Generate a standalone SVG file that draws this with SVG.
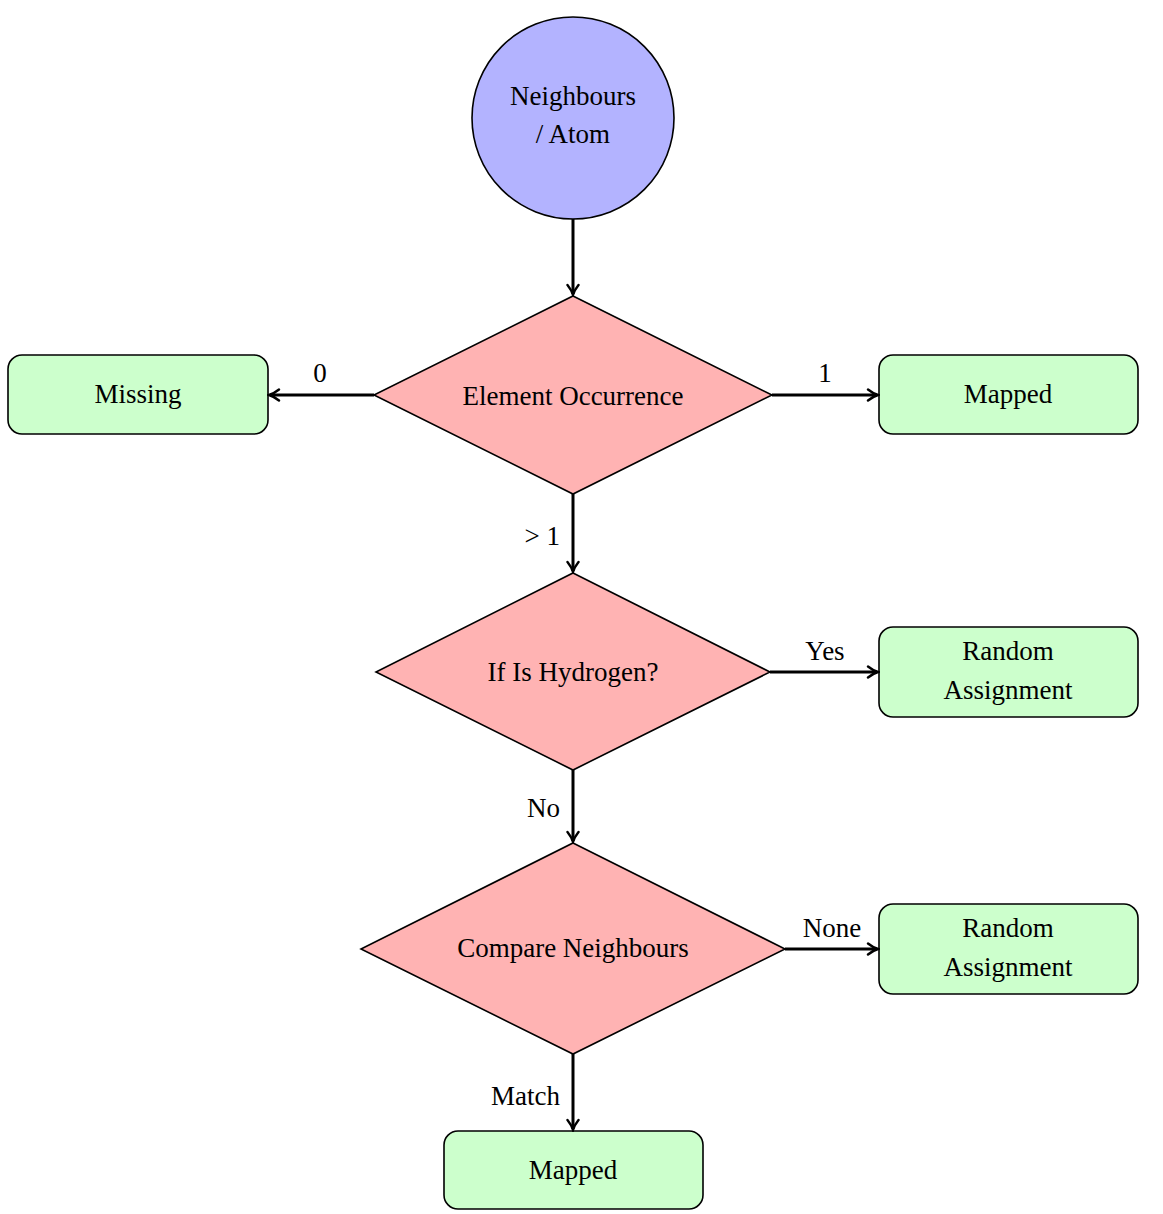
<svg xmlns="http://www.w3.org/2000/svg" width="1163" height="1214" viewBox="0 0 1163 1214">
<style>
text{font-family:"Liberation Serif","DejaVu Serif",serif;font-size:27px;fill:#000}
.c{text-anchor:middle}
.sh{stroke:#000;stroke-width:1.6}
.box{fill:#ccffcc}
.dia{fill:#ffb3b3}
.e{stroke:#000;stroke-width:3;fill:none;marker-end:url(#a)}
</style>
<defs>
<marker id="a" markerWidth="14" markerHeight="14" refX="11" refY="7" orient="auto" markerUnits="userSpaceOnUse">
<path d="M2,1.5 Q7,5.5 12,7 Q7,8.5 2,12.5" fill="none" stroke="#000" stroke-width="2.4" stroke-linecap="round"/>
</marker>
</defs>
<g id="start"><circle class="sh" cx="573" cy="118" r="101" fill="#b3b3ff"/><text class="c" x="573" y="105">Neighbours</text><text class="c" x="573" y="143">/ Atom</text></g>
<g id="occ"><polygon class="sh dia" points="573,296 772,395 573,494 374,395"/><text class="c" x="573" y="405">Element Occurrence</text></g>
<g id="missing"><rect class="sh box" x="8" y="355" width="260" height="79" rx="14"/><text class="c" x="138" y="403">Missing</text></g>
<g id="mapped1"><rect class="sh box" x="879" y="355" width="259" height="79" rx="14"/><text class="c" x="1008" y="403">Mapped</text></g>
<g id="hyd"><polygon class="sh dia" points="573,573 770,672 573,770 376,672"/><text class="c" x="573" y="681">If Is Hydrogen?</text></g>
<g id="rand1"><rect class="sh box" x="879" y="627" width="259" height="90" rx="14"/><text class="c" x="1008" y="660">Random</text><text class="c" x="1008" y="699">Assignment</text></g>
<g id="cmp"><polygon class="sh dia" points="573,843 785,949 573,1054 361,949"/><text class="c" x="573" y="957">Compare Neighbours</text></g>
<g id="rand2"><rect class="sh box" x="879" y="904" width="259" height="90" rx="14"/><text class="c" x="1008" y="937">Random</text><text class="c" x="1008" y="976">Assignment</text></g>
<g id="mapped2"><rect class="sh box" x="444" y="1131" width="259" height="78" rx="14"/><text class="c" x="573" y="1179">Mapped</text></g>
<g id="edges">
<line class="e" x1="573" y1="219" x2="573" y2="294"/>
<line class="e" x1="374" y1="395" x2="270" y2="395"/>
<line class="e" x1="772" y1="395" x2="877" y2="395"/>
<line class="e" x1="573" y1="494" x2="573" y2="571"/>
<line class="e" x1="770" y1="672" x2="877" y2="672"/>
<line class="e" x1="573" y1="770" x2="573" y2="841"/>
<line class="e" x1="785" y1="949" x2="877" y2="949"/>
<line class="e" x1="573" y1="1054" x2="573" y2="1129"/>
<text class="c" x="320" y="382">0</text>
<text class="c" x="825" y="382">1</text>
<text x="560" y="545" text-anchor="end">&gt; 1</text>
<text class="c" x="825" y="660">Yes</text>
<text x="560" y="817" text-anchor="end">No</text>
<text class="c" x="832" y="937">None</text>
<text x="560" y="1105" text-anchor="end">Match</text>
</g>
</svg>
